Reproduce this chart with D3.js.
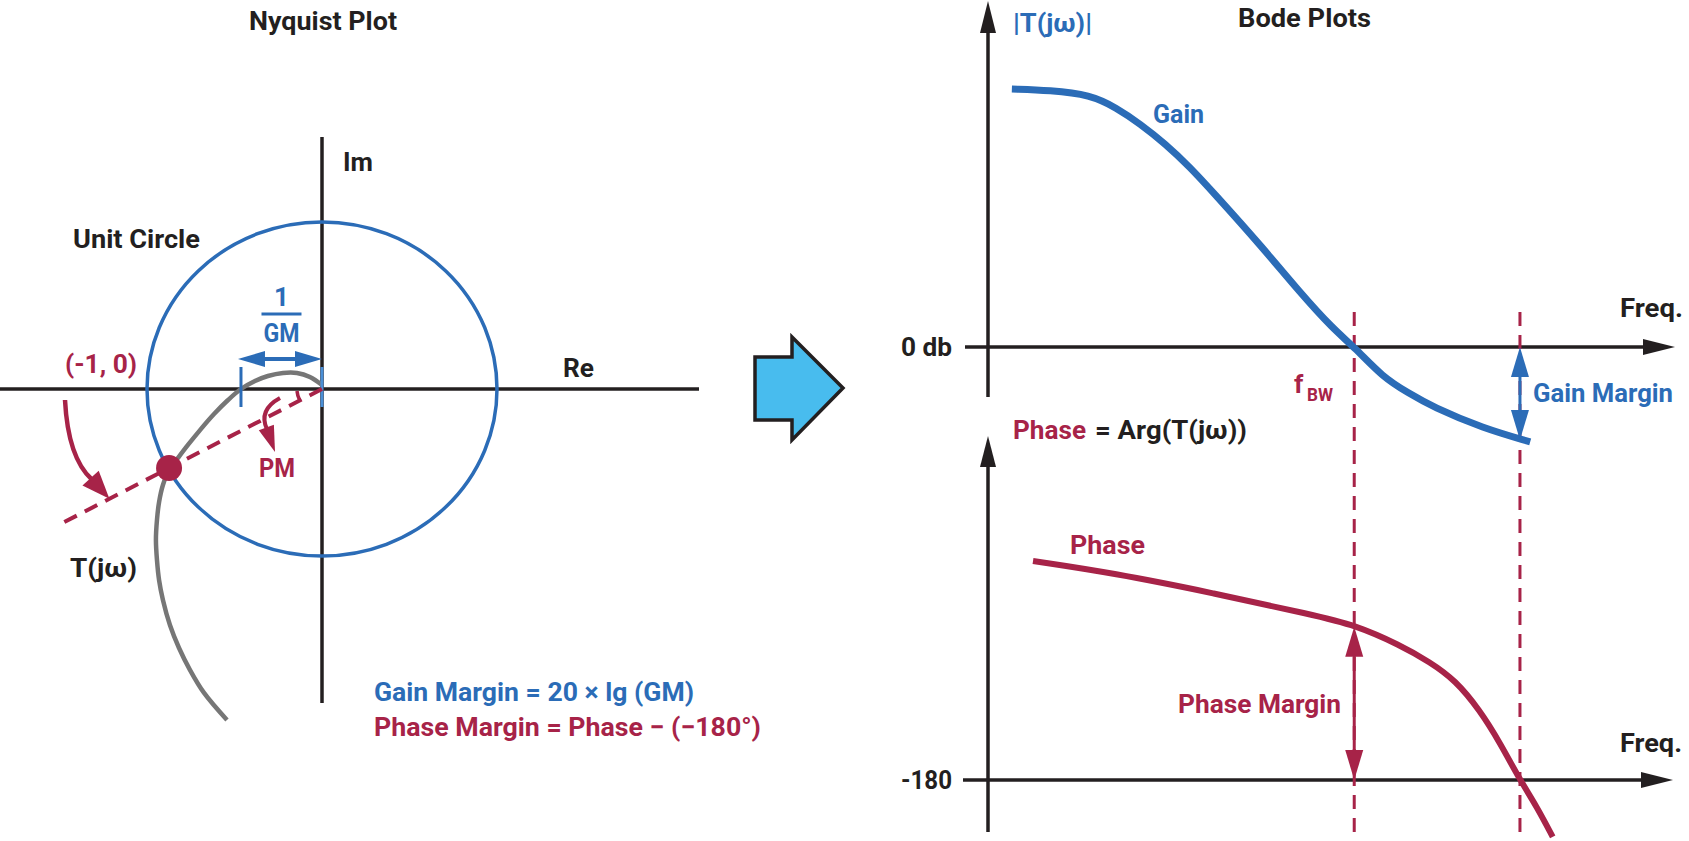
<!DOCTYPE html>
<html>
<head>
<meta charset="utf-8">
<script src="https://cdn.jsdelivr.net/npm/d3@7"></script>
<style>
  body { margin: 0; background: #fff; }
  text { font-family: Roboto, "Liberation Sans", sans-serif; font-weight: 700; }
</style>
</head>
<body>
<script>
var W = 1689, H = 841;
var blue = "#2b6cb7", red = "#a72348", black = "#231f20", gray = "#767676", sky = "#48bcee";

// Nyquist curve T(jw) as [Re, Im] (unit circle radius = 1)
var nyquist = [[0, 0.024], [-0.069, 0.072], [-0.143, 0.096], [-0.223, 0.096], [-0.309, 0.078],
  [-0.383, 0.048], [-0.463, 0], [-0.537, -0.066], [-0.617, -0.15], [-0.697, -0.246],
  [-0.766, -0.335], [-0.823, -0.413], [-0.874, -0.485], [-0.909, -0.575], [-0.931, -0.677],
  [-0.943, -0.784], [-0.949, -0.904], [-0.943, -1.024], [-0.931, -1.144], [-0.909, -1.263],
  [-0.869, -1.413], [-0.817, -1.551], [-0.754, -1.683], [-0.674, -1.82], [-0.543, -1.982]];
var gmCross = -0.463;            // -1/GM on the real axis
var pmPoint = [-0.874, -0.473];  // |T| = 1 crossing

// Bode plots: freq in 0..100 along the axis, gain in dB, phase in degrees
var gain = [[3.5, 40], [9.1, 39.8], [15, 39.1], [18.8, 37.1], [22.3, 34.6], [26, 31.5],
  [29.6, 27.9], [33, 24], [40.2, 15.5], [45.7, 8.5], [50.6, 2.8], [53.7, 0], [57.9, -4.7],
  [61.6, -7.1], [65.2, -9.3], [72.6, -12.6], [79.5, -14.7]];
var phase = [[6.6, -30], [18.3, -38.2], [33, -51.9], [47.7, -67], [53.8, -73.8], [60.4, -87.5],
  [64.8, -99.2], [68.5, -111.5], [72.1, -132.1], [75.1, -154.7], [78, -180], [80.5, -198.5],
  [82.8, -219]];
var fBW = 53.7, f180 = 78.0;
var gainAtF180 = -14.4, phaseAtFBW = -75;

var svg = d3.select("body").append("svg").attr("width", W).attr("height", H);

var re = d3.scaleLinear().domain([-1, 1]).range([147, 497]);
var im = d3.scaleLinear().domain([-1, 1]).range([556, 222]);
var fx = d3.scaleLinear().domain([0, 100]).range([988, 1670]);
var gy = d3.scaleLinear().domain([0, 40]).range([347, 89]);
var py = d3.scaleLinear().domain([-180, -30]).range([780, 561]);

function head(x1, y1, x2, y2, len, hw, color) {
  var dx = x2 - x1, dy = y2 - y1, L = Math.hypot(dx, dy);
  dx /= L; dy /= L;
  var bx = x2 - dx * len, by = y2 - dy * len;
  svg.append("path")
    .attr("d", "M" + x2 + "," + y2 + "L" + (bx - dy * hw) + "," + (by + dx * hw) +
      "L" + (bx + dy * hw) + "," + (by - dx * hw) + "Z")
    .attr("fill", color);
  return [bx + dx * 2, by + dy * 2];
}
function line(x1, y1, x2, y2, color, w, dash) {
  var l = svg.append("line").attr("x1", x1).attr("y1", y1).attr("x2", x2).attr("y2", y2)
    .attr("stroke", color).attr("stroke-width", w);
  if (dash) l.attr("stroke-dasharray", dash);
  return l;
}
function txt(s, x, y, size, color, w, anchor) {
  var t = svg.append("text").attr("x", x).attr("y", y).attr("font-size", size)
    .attr("fill", color).text(s);
  if (anchor) t.attr("text-anchor", anchor);
  if (w) t.attr("textLength", w).attr("lengthAdjust", "spacingAndGlyphs");
  return t;
}
function dblArrow(x1, y1, x2, y2, color, w, len, hw) {
  var a = head(x2, y2, x1, y1, len, hw, color);
  var b = head(x1, y1, x2, y2, len, hw, color);
  line(a[0], a[1], b[0], b[1], color, w);
}

// ---------- Nyquist ----------
var ox = re(0), oy = im(0);
line(0, oy, 699, oy, black, 3.5);
line(ox, 137, ox, 703, black, 3.5);

svg.append("ellipse").attr("cx", ox).attr("cy", oy)
  .attr("rx", re(1) - ox).attr("ry", oy - im(1))
  .attr("fill", "none").attr("stroke", blue).attr("stroke-width", 3.5);

svg.append("path").datum(nyquist)
  .attr("d", d3.line().x(function(d) { return re(d[0]); }).y(function(d) { return im(d[1]); })
    .curve(d3.curveCatmullRom.alpha(0.5)))
  .attr("fill", "none").attr("stroke", gray).attr("stroke-width", 4.5);

line(re(gmCross), 367, re(gmCross), 407, blue, 3);
line(ox, 367, ox, 407, "#4a8fd6", 3);
dblArrow(re(gmCross) - 3, 359, ox, 359, blue, 4, 27, 8);

var fracX = (re(gmCross) + ox) / 2;
txt("1", fracX, 306, 26, blue, null, "middle");
line(fracX - 20, 314, fracX + 20, 314, blue, 3);
txt("GM", fracX, 342, 26, blue, 36, "middle");

// phase-margin ray through the |T|=1 point
var ext = 1.69;
line(ox, oy, re(pmPoint[0] * ext), im(pmPoint[1] * ext), red, 4, "14,9");

// small PM angle arc
var ddx = re(pmPoint[0]) - ox, ddy = im(pmPoint[1]) - oy, dl = Math.hypot(ddx, ddy);
var r0 = 25;
svg.append("path")
  .attr("d", "M" + (ox - r0) + "," + (oy + 2) + "A" + r0 + "," + r0 + " 0 0 0 " +
    (ox + ddx / dl * r0) + "," + (oy + ddy / dl * r0))
  .attr("fill", "none").attr("stroke", red).attr("stroke-width", 3.5);

// PM arrow
var pmB = head(263, 418, 275, 452, 26, 8, red);
svg.append("path").attr("d", "M280,398Q258,410 " + pmB[0] + "," + pmB[1])
  .attr("fill", "none").attr("stroke", red).attr("stroke-width", 4);

// (-1,0) arrow onto the ray
var tx = ox + ddx * 1.39, ty = oy + ddy * 1.39;
var aB = head(76, 462, tx, ty, 28, 11, red);
svg.append("path").attr("d", "M65,400Q68,458 " + aB[0] + "," + aB[1])
  .attr("fill", "none").attr("stroke", red).attr("stroke-width", 4.5);

svg.append("circle").attr("cx", re(pmPoint[0])).attr("cy", im(pmPoint[1])).attr("r", 13)
  .attr("fill", red);

txt("Nyquist Plot", 323, 30, 25, black, 148, "middle");
txt("Im", 343, 171, 26, black, 30);
txt("Unit Circle", 73, 248, 25, black, 127);
txt("Re", 563, 377, 26, black, 31);
txt("(-1, 0)", 65, 373, 26, red, 72);
txt("PM", 259, 477, 26, red, 36);
txt("T(jω)", 70, 577, 26, black, 67);
txt("Gain Margin = 20 × lg (GM)", 374, 701, 26, blue, 320);
txt("Phase Margin = Phase − (−180°)", 374, 736, 26, red, 387);

// ---------- block arrow ----------
svg.append("polygon")
  .attr("points", "755,357 792,357 792,337 843,388 792,440 792,420 755,420")
  .attr("fill", sky).attr("stroke", black).attr("stroke-width", 3.5)
  .attr("stroke-linejoin", "miter");

// ---------- Bode ----------
var ax = fx(0);
head(ax, 40, ax, 1, 32, 8, black);
line(ax, 28, ax, 397, black, 3.5);
head(1600, gy(0), 1675, gy(0), 32, 8, black);
line(965, gy(0), 1646, gy(0), black, 3.5);
head(ax, 480, ax, 436, 31, 8, black);
line(ax, 462, ax, 832, black, 3.5);
head(1600, py(-180), 1673, py(-180), 32, 8, black);
line(963, py(-180), 1644, py(-180), black, 3.5);

line(fx(fBW), 312, fx(fBW), H, red, 3, "14,9");
line(fx(f180), 312, fx(f180), H, red, 3, "14,9");

svg.append("path").datum(gain)
  .attr("d", d3.line().x(function(d) { return fx(d[0]); }).y(function(d) { return gy(d[1]); })
    .curve(d3.curveBasis))
  .attr("fill", "none").attr("stroke", blue).attr("stroke-width", 7);

svg.append("path").datum(phase)
  .attr("d", d3.line().x(function(d) { return fx(d[0]); }).y(function(d) { return py(d[1]); })
    .curve(d3.curveBasis))
  .attr("fill", "none").attr("stroke", red).attr("stroke-width", 6);

dblArrow(fx(f180), gy(0), fx(f180), gy(gainAtF180), blue, 3, 30, 9);
dblArrow(fx(fBW), py(phaseAtFBW), fx(fBW), py(-180), red, 3, 30, 9);

txt("Bode Plots", 1238, 27, 25, black, 133);
txt("|T(jω)|", 1013, 32, 26, blue, 79);
txt("Gain", 1153, 123, 26, blue, 51);
txt("Freq.", 1620, 317, 26, black, 63);
txt("0 db", 952, 356, 26, black, 51, "end");
txt("f", 1294, 393, 26, red);
txt("BW", 1307, 401, 18, red, 26);
txt("Gain Margin", 1533, 402, 26, blue, 140);
txt("Phase", 1013, 439, 26, red, 73);
txt("= Arg(T(jω))", 1095, 439, 26, black, 152);
txt("Phase", 1070, 554, 26, red, 75);
txt("Phase Margin", 1178, 713, 26, red, 163);
txt("Freq.", 1620, 752, 26, black, 62);
txt("-180", 952, 789, 26, black, 51, "end");
</script>
</body>
</html>
